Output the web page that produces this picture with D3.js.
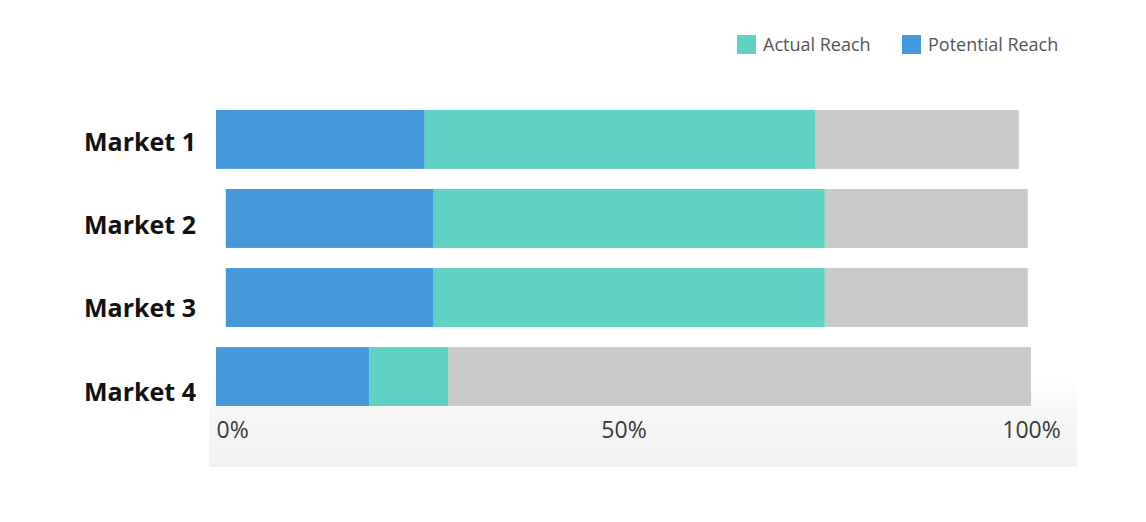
<!DOCTYPE html>
<html>
<head>
<meta charset="utf-8">
<script src="https://cdn.jsdelivr.net/npm/d3@7"></script>
<style>
  html, body { margin: 0; padding: 0; background: #ffffff; }
  svg { display: block; }
</style>
</head>
<body>
<svg id="chart" width="1146" height="522"></svg>
<script>
// ---- data (percent of market) ----
const categories = ["Market 1", "Market 2", "Market 3", "Market 4"];
const barStart = [0, 1.2, 1.2, 0];            // where each bar begins
const potentialReach = [25.6, 26.7, 26.7, 18.8]; // end of blue segment
const actualReach = [73.5, 74.7, 74.7, 28.5];    // end of teal segment
const totalMarket = [98.5, 99.6, 99.6, 100];     // end of grey segment
const tickValues = [0, 50, 100];
const tickLabels = ["0%", "50%", "100%"];
const legendLabels = ["Actual Reach", "Potential Reach"];

const colors = { potential: "#4599da", actual: "#5fd2c3", rest: "#c9c9c9" };

const svg = d3.select("#chart");

const x = d3.scaleLinear().domain([0, 100]).range([216, 1031]);
const y = d3.scaleBand().domain(categories).range([110, 406]).paddingInner(0.255).paddingOuter(0);
const yLabel = d3.scalePoint().domain(categories).range([142, 392]);

// background panel behind axis
const defs = svg.append("defs");
const grad = defs.append("linearGradient").attr("id", "panelGrad")
  .attr("x1", 0).attr("y1", 0).attr("x2", 0).attr("y2", 1);
grad.append("stop").attr("offset", "0%").attr("stop-color", "#ffffff");
grad.append("stop").attr("offset", "35%").attr("stop-color", "#f7f7f7");
grad.append("stop").attr("offset", "100%").attr("stop-color", "#f1f1f1");
svg.append("rect").attr("x", 209).attr("y", 380).attr("width", 868).attr("height", 87)
  .attr("fill", "url(#panelGrad)");

const rows = categories.map((c, i) => ({
  cat: c,
  segs: [
    { from: barStart[i], to: potentialReach[i], color: colors.potential },
    { from: potentialReach[i], to: actualReach[i], color: colors.actual },
    { from: actualReach[i], to: totalMarket[i], color: colors.rest }
  ]
}));

const g = svg.append("g");
rows.forEach(r => {
  g.selectAll(null).data(r.segs.slice().reverse()).enter().append("rect")
    .attr("x", d => x(d.from))
    .attr("y", y(r.cat))
    .attr("width", d => x(d.to) - x(d.from))
    .attr("height", y.bandwidth())
    .attr("fill", d => d.color);
});

// category labels
svg.append("g").selectAll("text").data(categories).enter().append("text")
  .attr("x", 84)
  .attr("y", d => yLabel(d))
  .attr("dy", "0.35em")
  .attr("font-family", "'Open Sans', sans-serif")
  .attr("font-weight", 700)
  .attr("font-size", 25)
  .attr("fill", "#111")
  .text(d => d);

// x axis
const xAxis = d3.axisBottom(x).tickValues(tickValues)
  .tickFormat((d, i) => tickLabels[i]).tickSize(0).tickPadding(0);
const ax = svg.append("g").attr("transform", "translate(0,438)").call(xAxis);
ax.select(".domain").remove();
ax.selectAll("text")
  .attr("font-family", "'Open Sans', sans-serif")
  .attr("font-size", 23)
  .attr("fill", "#3a3a3a")
  .attr("dy", 0)
  .attr("y", 0)
  .attr("text-anchor", (d, i) => i === 0 ? "start" : "middle");

// legend
const legend = svg.append("g").attr("font-family", "'Open Sans', sans-serif");
const legItems = [
  { label: legendLabels[0], color: colors.actual, x: 737 },
  { label: legendLabels[1], color: colors.potential, x: 902 }
];
legItems.forEach(it => {
  legend.append("rect").attr("x", it.x).attr("y", 35).attr("width", 19).attr("height", 19).attr("fill", it.color);
  legend.append("text").attr("x", it.x + 26).attr("y", 45).attr("dy", "0.35em")
    .attr("font-size", 18).attr("fill", "#555").text(it.label);
});
</script>
</body>
</html>
